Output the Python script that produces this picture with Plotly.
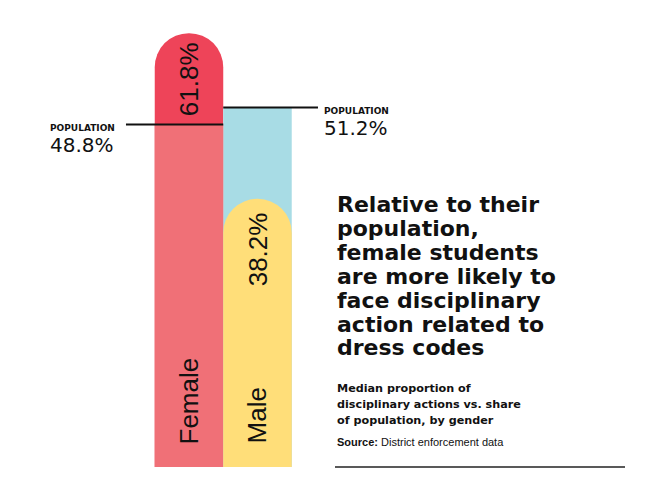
import plotly.graph_objects as go

# ---- data ----
categories = ["Female", "Male"]
disciplinary = [61.8, 38.2]   # median share of disciplinary actions (%)
population = [48.8, 51.2]     # share of student population (%)
value_labels = ["61.8%", "38.2%"]
pop_labels = ["48.8%", "51.2%"]
title_lines = [
    "Relative to their",
    "population,",
    "female students",
    "are more likely to",
    "face disciplinary",
    "action related to",
    "dress codes",
]
subtitle_lines = [
    "Median proportion of",
    "disciplinary actions vs. share",
    "of population, by gender",
]
source_label = "Source:"
source_text = "District enforcement data"

# ---- styling ----
W, H = 655, 500
RED, PINK, BLUE, YELLOW = "#EE4459", "#F07077", "#A8DCE5", "#FFDE79"
INK = "#111111"


def px(x):
    return x / W


def py(y):
    return 1 - y / H


fig = go.Figure()
# back layer (x / y): Female disciplinary (rounded), Male population
fig.add_trace(go.Bar(x=[categories[0]], y=[disciplinary[0]], width=1,
                     xaxis="x", yaxis="y",
                     marker=dict(color=RED, cornerradius="50%", line_width=0)))
fig.add_trace(go.Bar(x=[categories[1]], y=[population[1]], width=1,
                     xaxis="x", yaxis="y",
                     marker=dict(color=BLUE, line_width=0)))
# front layer (x2 / y2): Female population, Male disciplinary (rounded)
fig.add_trace(go.Bar(x=[categories[0]], y=[population[0]], width=1,
                     xaxis="x2", yaxis="y2",
                     marker=dict(color=PINK, line_width=0)))
fig.add_trace(go.Bar(x=[categories[1]], y=[disciplinary[1]], width=1,
                     xaxis="x2", yaxis="y2",
                     marker=dict(color=YELLOW, cornerradius="50%", line_width=0)))

# population marker lines
fig.add_shape(type="line", xref="x", yref="y", x0=-0.92, x1=0.5,
              y0=population[0], y1=population[0], line=dict(color=INK, width=2))
fig.add_shape(type="line", xref="x", yref="y", x0=0.5, x1=1.883,
              y0=population[1], y1=population[1], line=dict(color=INK, width=2))

# population labels
pop_x = [49, 323]
pop_shift_head = [-4, -3.5]
pop_shift_val = [-21, -20.5]
for i in range(2):
    fig.add_annotation(xref="paper", yref="y", x=px(pop_x[i]), y=population[i],
                       xanchor="left", yanchor="middle", yshift=pop_shift_head[i],
                       text="<b>POPULATION</b>", showarrow=False, borderpad=0,
                       font=dict(family="DejaVu Sans", size=9, color=INK))
    fig.add_annotation(xref="paper", yref="y", x=px(pop_x[i]), y=population[i],
                       xanchor="left", yanchor="middle", yshift=pop_shift_val[i],
                       text=pop_labels[i], showarrow=False, borderpad=0,
                       font=dict(family="DejaVu Sans", size=20, color=INK))

# rotated value labels near bar tops
val_shift = [-46, -50]
for i in range(2):
    fig.add_annotation(xref="x", yref="y", x=categories[i], y=disciplinary[i],
                       yshift=val_shift[i], textangle=-90, showarrow=False,
                       xanchor="center", yanchor="middle", text=value_labels[i],
                       font=dict(family="Liberation Sans", size=26, color=INK))

# rotated category labels at bar bottoms
cat_shift = [66.5, 52]
for i in range(2):
    fig.add_annotation(xref="x", yref="y", x=categories[i], y=0,
                       yshift=cat_shift[i], textangle=-90, showarrow=False,
                       xanchor="center", yanchor="middle", text=categories[i],
                       font=dict(family="Liberation Sans", size=26, color=INK))

# title
for k, line in enumerate(title_lines):
    fig.add_annotation(xref="paper", yref="paper", x=px(335), y=py(205 + 23.8 * k),
                       xanchor="left", yanchor="middle", showarrow=False,
                       text=f"<b>{line}</b>",
                       font=dict(family="DejaVu Sans", size=22, color=INK))

# subtitle
for k, line in enumerate(subtitle_lines):
    fig.add_annotation(xref="paper", yref="paper", x=px(335), y=py(388.7 + 16 * k),
                       xanchor="left", yanchor="middle", showarrow=False,
                       text=f"<b>{line}</b>",
                       font=dict(family="DejaVu Sans", size=11.2, color=INK))

fig.add_annotation(xref="paper", yref="paper", x=px(335), y=py(442),
                   xanchor="left", yanchor="middle", showarrow=False,
                   text=f"<b>{source_label}</b> {source_text}",
                   font=dict(family="Liberation Sans", size=11, color=INK))

fig.add_shape(type="line", xref="paper", yref="paper", x0=px(335), x1=px(625),
              y0=py(467), y1=py(467), line=dict(color="#222222", width=1.5))

xr = [-2.759, 6.803]
yr = [-4.70, 66.52]
fig.update_layout(
    width=W, height=H,
    margin=dict(l=0, r=0, t=0, b=0),
    paper_bgcolor="white", plot_bgcolor="white",
    barmode="overlay", showlegend=False,
    xaxis=dict(type="category", categoryarray=categories, range=xr,
               visible=False, fixedrange=True),
    yaxis=dict(range=yr, visible=False, fixedrange=True),
    xaxis2=dict(type="category", categoryarray=categories, range=xr,
                visible=False, fixedrange=True, overlaying="x"),
    yaxis2=dict(range=yr, visible=False, fixedrange=True, overlaying="y"),
)

fig.write_html("out.html")
